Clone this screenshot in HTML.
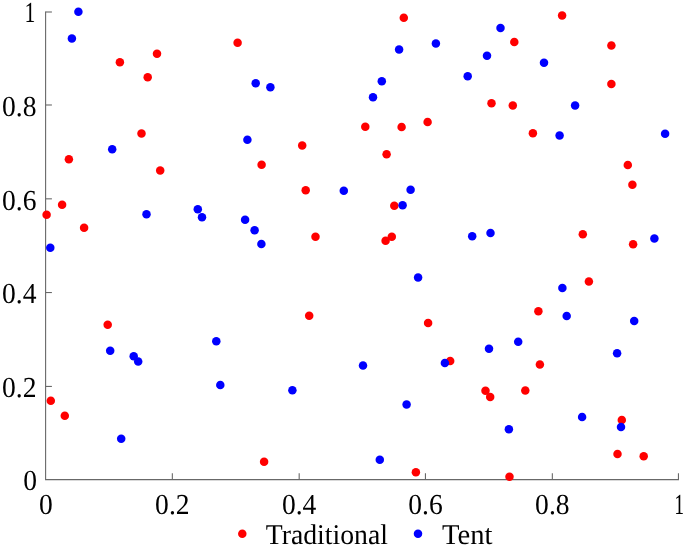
<!DOCTYPE html>
<html><head><meta charset="utf-8"><style>
html,body{margin:0;padding:0;background:#fff;}
body{width:685px;height:547px;overflow:hidden;}
svg{display:block;}
text{text-rendering:geometricPrecision;font-family:"Liberation Serif","Times New Roman",serif;font-size:28.6px;fill:#000;}
</style></head><body>
<svg width="685" height="547" viewBox="0 0 685 547">
<path d="M45.6,11.45V479.6" fill="none" stroke="#686868" stroke-width="1.1"/>
<path d="M45.05,479.6H679" fill="none" stroke="#686868" stroke-width="1.2"/>
<path d="M45.6,386.44h6.3" stroke="#686868" stroke-width="1.1"/>
<path d="M172.34,479.6v-6.3999999999999995" stroke="#686868" stroke-width="1.1"/>
<path d="M45.6,292.53h6.3" stroke="#686868" stroke-width="1.1"/>
<path d="M299.18,479.6v-6.3999999999999995" stroke="#686868" stroke-width="1.1"/>
<path d="M45.6,198.83h6.3" stroke="#686868" stroke-width="1.1"/>
<path d="M425.45,479.6v-6.3999999999999995" stroke="#686868" stroke-width="1.1"/>
<path d="M45.6,104.99h6.3" stroke="#686868" stroke-width="1.1"/>
<path d="M552.34,479.6v-6.3999999999999995" stroke="#686868" stroke-width="1.1"/>
<path d="M45.6,12.00h6.3" stroke="#686868" stroke-width="1.1"/>
<path d="M678.45,479.6v-6.3999999999999995" stroke="#686868" stroke-width="1.1"/>
<text transform="translate(36.90,490.30) scale(0.95,1)" text-anchor="end" style="font-size:29px">0</text>
<text transform="translate(36.40,397.24) scale(0.95,1)" text-anchor="end" style="font-size:29px">0.2</text>
<text transform="translate(36.40,303.33) scale(0.95,1)" text-anchor="end" style="font-size:29px">0.4</text>
<text transform="translate(36.40,209.63) scale(0.95,1)" text-anchor="end" style="font-size:29px">0.6</text>
<text transform="translate(36.40,115.79) scale(0.95,1)" text-anchor="end" style="font-size:29px">0.8</text>
<text transform="translate(30.0,22.10) scale(0.75,1)" text-anchor="middle" style="font-size:29px">1</text>
<text transform="translate(46.00,513.9) scale(0.95,1)" text-anchor="middle" style="font-size:29px">0</text>
<text transform="translate(172.34,513.9) scale(0.95,1)" text-anchor="middle" style="font-size:29px">0.2</text>
<text transform="translate(299.18,513.9) scale(0.95,1)" text-anchor="middle" style="font-size:29px">0.4</text>
<text transform="translate(425.45,513.9) scale(0.95,1)" text-anchor="middle" style="font-size:29px">0.6</text>
<text transform="translate(552.34,513.9) scale(0.95,1)" text-anchor="middle" style="font-size:29px">0.8</text>
<text transform="translate(679.3,513.9) scale(0.68,1)" text-anchor="middle" style="font-size:29px">1</text>
<circle cx="119.9" cy="62.35" r="4.25" fill="#f00"/>
<circle cx="157.0" cy="53.85" r="4.25" fill="#f00"/>
<circle cx="147.7" cy="77.35" r="4.25" fill="#f00"/>
<circle cx="141.5" cy="133.55" r="4.25" fill="#f00"/>
<circle cx="237.6" cy="42.85" r="4.25" fill="#f00"/>
<circle cx="403.8" cy="17.75" r="4.25" fill="#f00"/>
<circle cx="365.3" cy="126.65" r="4.25" fill="#f00"/>
<circle cx="401.6" cy="126.95" r="4.25" fill="#f00"/>
<circle cx="427.6" cy="121.95" r="4.25" fill="#f00"/>
<circle cx="491.5" cy="103.15" r="4.25" fill="#f00"/>
<circle cx="562.1" cy="15.55" r="4.25" fill="#f00"/>
<circle cx="514.3" cy="41.95" r="4.25" fill="#f00"/>
<circle cx="611.4" cy="45.45" r="4.25" fill="#f00"/>
<circle cx="611.4" cy="84.05" r="4.25" fill="#f00"/>
<circle cx="512.8" cy="105.55" r="4.25" fill="#f00"/>
<circle cx="532.9" cy="133.35" r="4.25" fill="#f00"/>
<circle cx="68.9" cy="159.25" r="4.25" fill="#f00"/>
<circle cx="160.2" cy="170.55" r="4.25" fill="#f00"/>
<circle cx="62.1" cy="204.65" r="4.25" fill="#f00"/>
<circle cx="46.6" cy="214.85" r="4.25" fill="#f00"/>
<circle cx="84.1" cy="227.85" r="4.25" fill="#f00"/>
<circle cx="302.2" cy="145.55" r="4.25" fill="#f00"/>
<circle cx="261.6" cy="164.85" r="4.25" fill="#f00"/>
<circle cx="305.7" cy="190.35" r="4.25" fill="#f00"/>
<circle cx="315.5" cy="236.65" r="4.25" fill="#f00"/>
<circle cx="386.6" cy="154.25" r="4.25" fill="#f00"/>
<circle cx="394.3" cy="205.65" r="4.25" fill="#f00"/>
<circle cx="391.8" cy="236.65" r="4.25" fill="#f00"/>
<circle cx="385.6" cy="240.65" r="4.25" fill="#f00"/>
<circle cx="627.8" cy="164.95" r="4.25" fill="#f00"/>
<circle cx="632.4" cy="184.65" r="4.25" fill="#f00"/>
<circle cx="582.8" cy="234.25" r="4.25" fill="#f00"/>
<circle cx="633.1" cy="244.25" r="4.25" fill="#f00"/>
<circle cx="107.7" cy="324.85" r="4.25" fill="#f00"/>
<circle cx="309.2" cy="315.85" r="4.25" fill="#f00"/>
<circle cx="428.1" cy="323.05" r="4.25" fill="#f00"/>
<circle cx="450.2" cy="360.95" r="4.25" fill="#f00"/>
<circle cx="485.5" cy="390.80" r="4.25" fill="#f00"/>
<circle cx="490.2" cy="396.90" r="4.25" fill="#f00"/>
<circle cx="588.9" cy="281.45" r="4.25" fill="#f00"/>
<circle cx="538.4" cy="311.35" r="4.25" fill="#f00"/>
<circle cx="539.9" cy="364.45" r="4.25" fill="#f00"/>
<circle cx="525.3" cy="390.50" r="4.25" fill="#f00"/>
<circle cx="50.8" cy="400.75" r="4.25" fill="#f00"/>
<circle cx="64.8" cy="415.75" r="4.25" fill="#f00"/>
<circle cx="264.1" cy="461.65" r="4.25" fill="#f00"/>
<circle cx="415.9" cy="472.15" r="4.25" fill="#f00"/>
<circle cx="509.5" cy="476.65" r="4.25" fill="#f00"/>
<circle cx="621.8" cy="419.95" r="4.25" fill="#f00"/>
<circle cx="617.5" cy="453.95" r="4.25" fill="#f00"/>
<circle cx="643.7" cy="456.15" r="4.25" fill="#f00"/>
<circle cx="78.4" cy="11.75" r="4.25" fill="#00f"/>
<circle cx="71.9" cy="38.55" r="4.25" fill="#00f"/>
<circle cx="255.7" cy="83.35" r="4.25" fill="#00f"/>
<circle cx="270.4" cy="87.15" r="4.25" fill="#00f"/>
<circle cx="247.4" cy="139.75" r="4.25" fill="#00f"/>
<circle cx="399.1" cy="49.55" r="4.25" fill="#00f"/>
<circle cx="435.9" cy="43.55" r="4.25" fill="#00f"/>
<circle cx="500.5" cy="28.05" r="4.25" fill="#00f"/>
<circle cx="487.0" cy="55.85" r="4.25" fill="#00f"/>
<circle cx="467.7" cy="76.35" r="4.25" fill="#00f"/>
<circle cx="381.8" cy="81.15" r="4.25" fill="#00f"/>
<circle cx="373.0" cy="97.35" r="4.25" fill="#00f"/>
<circle cx="544.0" cy="62.85" r="4.25" fill="#00f"/>
<circle cx="575.1" cy="105.55" r="4.25" fill="#00f"/>
<circle cx="559.6" cy="135.55" r="4.25" fill="#00f"/>
<circle cx="665.1" cy="133.85" r="4.25" fill="#00f"/>
<circle cx="112.2" cy="149.25" r="4.25" fill="#00f"/>
<circle cx="146.5" cy="214.35" r="4.25" fill="#00f"/>
<circle cx="50.3" cy="247.65" r="4.25" fill="#00f"/>
<circle cx="197.8" cy="209.15" r="4.25" fill="#00f"/>
<circle cx="202.0" cy="217.35" r="4.25" fill="#00f"/>
<circle cx="245.1" cy="219.65" r="4.25" fill="#00f"/>
<circle cx="254.6" cy="230.15" r="4.25" fill="#00f"/>
<circle cx="261.4" cy="243.95" r="4.25" fill="#00f"/>
<circle cx="343.8" cy="190.85" r="4.25" fill="#00f"/>
<circle cx="410.6" cy="189.85" r="4.25" fill="#00f"/>
<circle cx="402.6" cy="205.15" r="4.25" fill="#00f"/>
<circle cx="472.2" cy="236.15" r="4.25" fill="#00f"/>
<circle cx="490.5" cy="232.95" r="4.25" fill="#00f"/>
<circle cx="654.4" cy="238.55" r="4.25" fill="#00f"/>
<circle cx="110.2" cy="350.85" r="4.25" fill="#00f"/>
<circle cx="133.7" cy="356.15" r="4.25" fill="#00f"/>
<circle cx="138.2" cy="361.45" r="4.25" fill="#00f"/>
<circle cx="216.3" cy="341.15" r="4.25" fill="#00f"/>
<circle cx="220.3" cy="384.95" r="4.25" fill="#00f"/>
<circle cx="292.4" cy="390.25" r="4.25" fill="#00f"/>
<circle cx="418.1" cy="277.55" r="4.25" fill="#00f"/>
<circle cx="489.0" cy="348.80" r="4.25" fill="#00f"/>
<circle cx="363.0" cy="365.45" r="4.25" fill="#00f"/>
<circle cx="444.9" cy="362.95" r="4.25" fill="#00f"/>
<circle cx="562.4" cy="288.05" r="4.25" fill="#00f"/>
<circle cx="566.7" cy="315.95" r="4.25" fill="#00f"/>
<circle cx="634.2" cy="321.05" r="4.25" fill="#00f"/>
<circle cx="518.2" cy="341.75" r="4.25" fill="#00f"/>
<circle cx="617.1" cy="353.25" r="4.25" fill="#00f"/>
<circle cx="121.2" cy="438.85" r="4.25" fill="#00f"/>
<circle cx="406.6" cy="404.55" r="4.25" fill="#00f"/>
<circle cx="379.8" cy="459.65" r="4.25" fill="#00f"/>
<circle cx="582.1" cy="416.95" r="4.25" fill="#00f"/>
<circle cx="621.0" cy="426.95" r="4.25" fill="#00f"/>
<circle cx="508.9" cy="429.15" r="4.25" fill="#00f"/>
<circle cx="242.3" cy="533.7" r="4.25" fill="#f00"/>
<text transform="translate(265.7,543.7) scale(0.97,1)">Traditional</text>
<circle cx="418" cy="533.8" r="4.25" fill="#00f"/>
<text transform="translate(442.1,543.8) scale(1,1)">Tent</text>
</svg>
</body></html>
